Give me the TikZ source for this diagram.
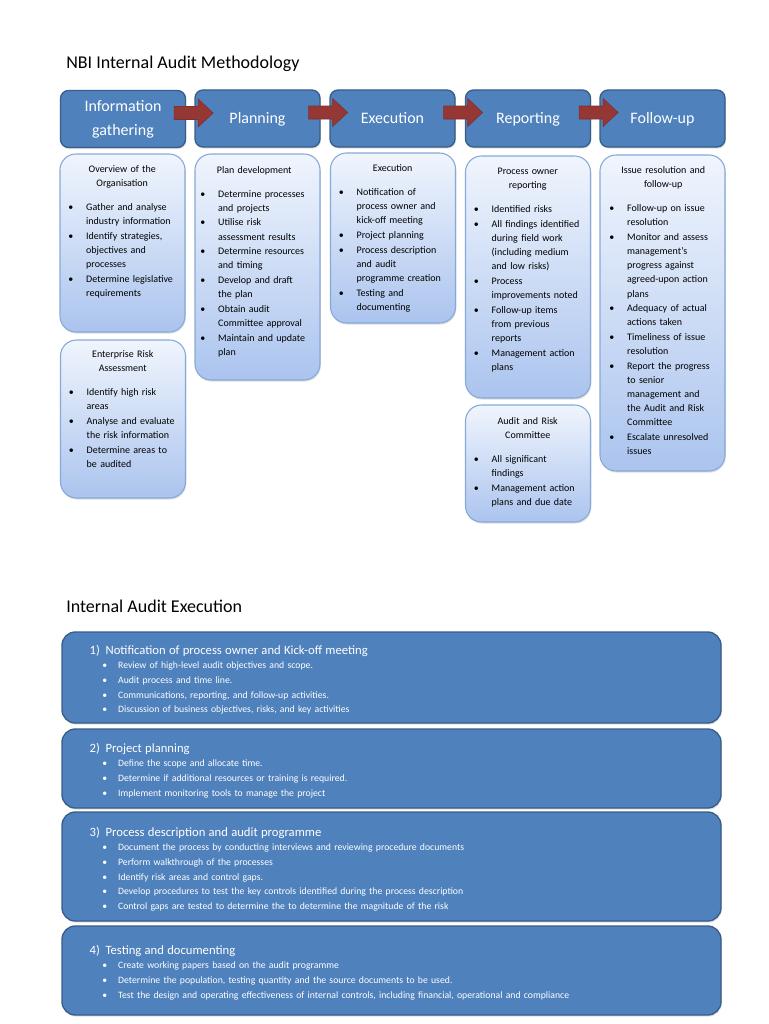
\documentclass[tikz,border=0pt]{standalone}
\usepackage{fontspec}
\setmainfont{Carlito}
\usetikzlibrary{calc,shadows}
\definecolor{hdr}{HTML}{4F81BD}
\definecolor{hdrline}{HTML}{385D8A}
\definecolor{arrred}{HTML}{953735}
\definecolor{lighttop}{HTML}{F0F5FD}
\definecolor{lightbot}{HTML}{ABC4EE}
\definecolor{lightline}{HTML}{86A9DA}
\newlength\bw
\setlength\bw{11.6pt}
\newcommand\ttl[1]{\par\noindent\makebox[77.25pt][c]{#1}}
\newcommand\bpt[1]{\par\vspace{0.4pt}\noindent\makebox[\bw][l]{\hspace*{-1.8pt}\textbullet}#1}
\newcommand\cnt[1]{\par\noindent\hspace*{\bw}#1}
\newcommand\gap{\par\vspace{7pt}}
\newcommand\hd[2]{\par\noindent{\fontsize{9.5}{11}\selectfont\makebox[12pt][l]{#1}#2}}
\newcommand\eb[1]{\par\noindent\hspace*{9.6pt}\makebox[11.8pt][l]{\textbullet}#1}
\tikzset{
  hbox/.style={draw=hdrline, fill=hdr, rounded corners=6pt, line width=1pt,
    minimum width=125*0.75pt, minimum height=57*0.75pt, text=white,
    font=\fontsize{12}{18}\selectfont, align=center,
    drop shadow={opacity=0.25, shadow xshift=0.6pt, shadow yshift=-1.2pt}},
  dbox/.style={draw=lightline, top color=lighttop, bottom color=lightbot,
    rounded corners=12pt, line width=0.8pt, minimum width=125*0.75pt,
    drop shadow={opacity=0.25, shadow xshift=0.6pt, shadow yshift=-1.2pt}},
  dtext/.style={anchor=base west, inner sep=0pt, text width=93.75pt, text=black,
    font=\fontsize{7.5}{10.6}\selectfont},
  ebox/.style={draw=hdrline, fill=hdr, rounded corners=10pt, line width=1pt,
    minimum width=659*0.75pt,
    drop shadow={opacity=0.25, shadow xshift=0.6pt, shadow yshift=-1.2pt}},
  etext/.style={anchor=base west, inner sep=0pt, text width=480pt, text=white,
    font=\fontsize{7.3}{11}\selectfont},
  rarrow/.style={fill=arrred, draw=arrred!85!black, line width=0.4pt},
  ttext/.style={anchor=base west, inner sep=0pt, font=\fontsize{13.5}{16}\selectfont, text=black},
}
\begin{document}
\begin{tikzpicture}[x=0.75pt,y=-0.75pt]
\path[fill=white] (0,0) rectangle (768,1024);
\useasboundingbox (0,0) rectangle (768,1024);

\node[ttext] (title1) at (66,69) {NBI Internal Audit Methodology};

% header boxes
\node[hbox] (h1) at (123,119) {\strut Information\\\strut gathering};
\node[hbox] (h2) at (257.5,118.5) {\strut Planning};
\node[hbox] (h3) at (392.5,118.5) {\strut Execution};
\node[hbox] (h4) at (528,118.5) {\strut Reporting};
\node[hbox] (h5) at (662.5,118.5) {\strut Follow-up};

% block arrows
\foreach \a/\b in {h1/h2,h2/h3,h3/h4,h4/h5}{
  \draw[rarrow] ($(\a.east)+(-12,-12.5)$) -- ++(24,0) -- ++(0,-7.5) -- ++(15,14)
     -- ++(-15,14) -- ++(0,-7.5) -- ++(-24,0) -- cycle;
}

% detail boxes
\node[dbox, minimum height=178*0.75pt] (d1a) at (122.5,243) {};
\node[dbox, minimum height=158*0.75pt] (d1b) at (123,419) {};
\node[dbox, minimum height=226*0.75pt] (d2) at (257.5,267) {};
\node[dbox, minimum height=170*0.75pt] (d3) at (393,238) {};
\node[dbox, minimum height=242*0.75pt] (d4a) at (528,277) {};
\node[dbox, minimum height=117*0.75pt] (d4b) at (528,463.5) {};
\node[dbox, minimum height=316*0.75pt] (d5) at (662.5,313) {};

\node[dtext] (t1a) at ($(d1a.north west)+(11,5)$) {%
\ttl{Overview of the}\ttl{Organisation}\gap
\bpt{Gather and analyse}\cnt{industry information}
\bpt{Identify strategies,}\cnt{objectives and}\cnt{processes}
\bpt{Determine legislative}\cnt{requirements}};

\node[dtext] (t1b) at ($(d1b.north west)+(11,4)$) {%
\ttl{Enterprise Risk}\ttl{Assessment}\gap
\bpt{Identify high risk}\cnt{areas}
\bpt{Analyse and evaluate}\cnt{the risk information}
\bpt{Determine areas to}\cnt{be audited}};

\node[dtext] (t2) at ($(d2.north west)+(8,5.5)$) {%
\ttl{Plan development}\gap
\bpt{Determine processes}\cnt{and projects}
\bpt{Utilise risk}\cnt{assessment results}
\bpt{Determine resources}\cnt{and timing}
\bpt{Develop and draft}\cnt{the plan}
\bpt{Obtain audit}\cnt{Committee approval}
\bpt{Maintain and update}\cnt{plan}};

\node[dtext] (t3) at ($(d3.north west)+(11,5)$) {%
\ttl{Execution}\gap
\bpt{Notification of}\cnt{process owner and}\cnt{kick-off meeting}
\bpt{Project planning}
\bpt{Process description}\cnt{and audit}\cnt{programme creation}
\bpt{Testing and}\cnt{documenting}};

\node[dtext] (t4a) at ($(d4a.north west)+(11,5)$) {%
\ttl{Process owner}\ttl{reporting}\gap
\bpt{Identified risks}
\bpt{All findings identified}\cnt{during field work}\cnt{(including medium}\cnt{and low risks)}
\bpt{Process}\cnt{improvements noted}
\bpt{Follow-up items}\cnt{from previous}\cnt{reports}
\bpt{Management action}\cnt{plans}};

\node[dtext] (t4b) at ($(d4b.north west)+(11,6)$) {%
\ttl{Audit and Risk}\ttl{Committee}\gap
\bpt{All significant}\cnt{findings}
\bpt{Management action}\cnt{plans and due date}};

\node[dtext] (t5) at ($(d5.north west)+(12,5)$) {%
\ttl{Issue resolution and}\ttl{follow-up}\gap
\bpt{Follow-up on issue}\cnt{resolution}
\bpt{Monitor and assess}\cnt{management’s}\cnt{progress against}\cnt{agreed-upon action}\cnt{plans}
\bpt{Adequacy of actual}\cnt{actions taken}
\bpt{Timeliness of issue}\cnt{resolution}
\bpt{Report the progress}\cnt{to senior}\cnt{management and}\cnt{the Audit and Risk}\cnt{Committee}
\bpt{Escalate unresolved}\cnt{issues}};

% second part
\node[ttext] (title2) at (66,612) {Internal Audit Execution};

\node[ebox, minimum height=91*0.75pt] (b1) at (391.5,677.5) {};
\node[ebox, minimum height=79*0.75pt] (b2) at (391.5,768.5) {};
\node[ebox, minimum height=109*0.75pt] (b3) at (391.5,866.5) {};
\node[ebox, minimum height=89*0.75pt] (b4) at (391.5,970.5) {};

\node[etext] (e1) at ($(b1.north west)+(28,8)$) {%
\hd{1)}{Notification of process owner and Kick-off meeting}
\eb{Review of high-level audit objectives and scope.}
\eb{Audit process and time line.}
\eb{Communications, reporting, and follow-up activities.}
\eb{Discussion of business objectives, risks, and key activities}};

\node[etext] (e2) at ($(b2.north west)+(28,9)$) {%
\hd{2)}{Project planning}
\eb{Define the scope and allocate time.}
\eb{Determine if additional resources or training is required.}
\eb{Implement monitoring tools to manage the project}};

\node[etext] (e3) at ($(b3.north west)+(28,10)$) {%
\hd{3)}{Process description and audit programme}
\eb{Document the process by conducting interviews and reviewing procedure documents}
\eb{Perform walkthrough of the processes}
\eb{Identify risk areas and control gaps.}
\eb{Develop procedures to test the key controls identified during the process description}
\eb{Control gaps are tested to determine the to determine the magnitude of the risk}};

\node[etext] (e4) at ($(b4.north west)+(28,14)$) {%
\hd{4)}{Testing and documenting}
\eb{Create working papers based on the audit programme}
\eb{Determine the population, testing quantity and the source documents to be used.}
\eb{Test the design and operating effectiveness of internal controls, including financial, operational and compliance}};
\end{tikzpicture}
\end{document}
